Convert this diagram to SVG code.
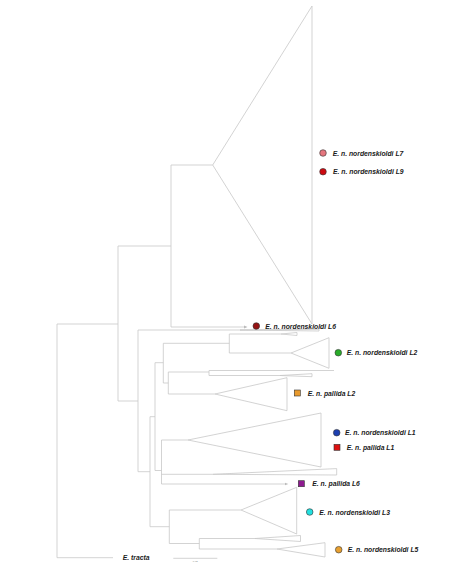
<svg xmlns="http://www.w3.org/2000/svg" width="474" height="571" viewBox="0 0 474 571">
<style>
.br{fill:none;stroke:#c8c8c8;stroke-width:0.8}
.tri{fill:#fff;stroke:#c8c8c8;stroke-width:0.8}
.lab{font-family:"Liberation Sans",Arial,sans-serif;font-size:6.8px;font-weight:bold;font-style:italic;fill:#1a1a1a}
.mk{stroke:#333;stroke-width:0.6}
.tip{fill:#bbb}
</style>
<rect width="474" height="571" fill="#fff"/>
<g id="connectors">
<!-- root -->
<path class="br" d="M57,324V557.7M57,324H118M57,557.7H113"/>
<!-- node 118 -->
<path class="br" d="M118,246V401M118,246H171M118,401H138"/>
<!-- node 171 -->
<path class="br" d="M171,165V327M171,165H212.7M171,327H245"/>
<polygon class="tip" points="244,325.6 247.5,327 244,328.4"/>
<!-- node 138 -->
<path class="br" d="M138,330V471.7M138,330H300M138,471.7H150"/>
<polygon class="tri" points="240,330 319,329.3 319,331"/>
<!-- node 150 -->
<path class="br" d="M150,416.7V526.7M150,416.7H155M150,526.7H169.3"/>
<!-- node 155 -->
<path class="br" d="M155,362.7V470.5M155,362.7H163.3M155,470.5H161.5"/>
<!-- node 163 -->
<path class="br" d="M163.3,343.3V383M163.3,343.3H229.3M163.3,383H168.3"/>
<!-- node 229 (L2) -->
<path class="br" d="M229.3,334V353M229.3,334H281M229.3,353H291"/>
<polygon class="tri" points="281,334 297,332.5 297,335.5"/>
<!-- node 168 (pallida L2) -->
<path class="br" d="M168.3,372V394M168.3,372H209M168.3,394H215"/>
<path class="br" d="M209,370.5V375.5M209,370.5H334M209,375.5H280"/>
<polygon class="tri" points="280,375.5 312,373.7 312,376.7"/>
<!-- node 161.5 (L1, pallida L6) -->
<path class="br" d="M161.5,440V484M161.5,440H188M161.5,474.3H213M161.5,484H286"/>
<polygon class="tri" points="213,474.3 336.7,468.6 336.7,475"/>
<polygon class="tip" points="285,482.7 288.3,484 285,485.3"/>
<!-- node 169 (L3, L5) -->
<path class="br" d="M169.3,510V543.5M169.3,510H241M169.3,543.5H199.3"/>
<path class="br" d="M199.3,538.5V549M199.3,538.5H255M199.3,549H277"/>
<polygon class="tri" points="255,538.5 300.5,535.5 300.5,541.5"/>
<!-- scale bar -->
<path class="br" d="M173.3,558.3H217.3" stroke="#999"/>
</g>
<g id="clade-L7-L9">
<polygon class="tri" points="212.7,165 312,6 312,324"/>
</g>
<g id="clade-L2">
<polygon class="tri" points="291,353 329,337.7 329,368.3"/>
</g>
<g id="clade-pallida-L2">
<polygon class="tri" points="215,394 287,377.7 287,410.7"/>
</g>
<g id="clade-L1">
<polygon class="tri" points="188,440 321,413 321,467"/>
</g>
<g id="clade-L3">
<polygon class="tri" points="241,510 296.7,487.3 296.7,534"/>
</g>
<g id="clade-L5">
<polygon class="tri" points="277,549 325,542.7 325,557"/>
</g>
<g id="label-L7">
<circle class="mk" cx="323" cy="153" r="3.3" fill="#e5767e"/>
<text class="lab" x="332.7" y="155.5">E. n. nordenskioldi L7</text>
</g>
<g id="label-L9">
<circle class="mk" cx="323" cy="171.7" r="3.3" fill="#cc0a10"/>
<text class="lab" x="333" y="174.2">E. n. nordenskioldi L9</text>
</g>
<g id="label-L6">
<circle class="mk" cx="256.3" cy="326" r="3.3" fill="#951414"/>
<text class="lab" x="265.3" y="328.5">E. n. nordenskioldi L6</text>
</g>
<g id="label-L2">
<circle class="mk" cx="338.3" cy="352.7" r="3.3" fill="#2aac2a"/>
<text class="lab" x="346.7" y="355.2">E. n. nordenskioldi L2</text>
</g>
<g id="label-pallida-L2">
<rect class="mk" x="294.3" y="390" width="6" height="6" fill="#e89a2e"/>
<text class="lab" x="307.7" y="395.5">E. n. pallida L2</text>
</g>
<g id="label-L1">
<circle class="mk" cx="336.7" cy="432.7" r="3.3" fill="#1c3fb0"/>
<text class="lab" x="345" y="435.2">E. n. nordenskioldi L1</text>
</g>
<g id="label-pallida-L1">
<rect class="mk" x="334" y="444.3" width="6" height="6" fill="#dd1111"/>
<text class="lab" x="346.7" y="449.8">E. n. pallida L1</text>
</g>
<g id="label-pallida-L6">
<rect class="mk" x="298.3" y="480.7" width="6" height="6" fill="#8e1a90"/>
<text class="lab" x="312.3" y="486.2">E. n. pallida L6</text>
</g>
<g id="label-L3">
<circle class="mk" cx="309.7" cy="512" r="3.3" fill="#22e0e0"/>
<text class="lab" x="319.3" y="514.5">E. n. nordenskioldi L3</text>
</g>
<g id="label-L5">
<circle class="mk" cx="338.7" cy="549.7" r="3.3" fill="#e8a030"/>
<text class="lab" x="347.7" y="552.2">E. n. nordenskioldi L5</text>
</g>
<g id="label-tracta">
<text class="lab" x="122.7" y="559.5">E. tracta</text>
</g>
<g id="scale-label">
<text x="195.3" y="562" font-family="Liberation Sans,Arial,sans-serif" font-size="2.5" fill="#888" text-anchor="middle">0.02</text>
</g>
</svg>
